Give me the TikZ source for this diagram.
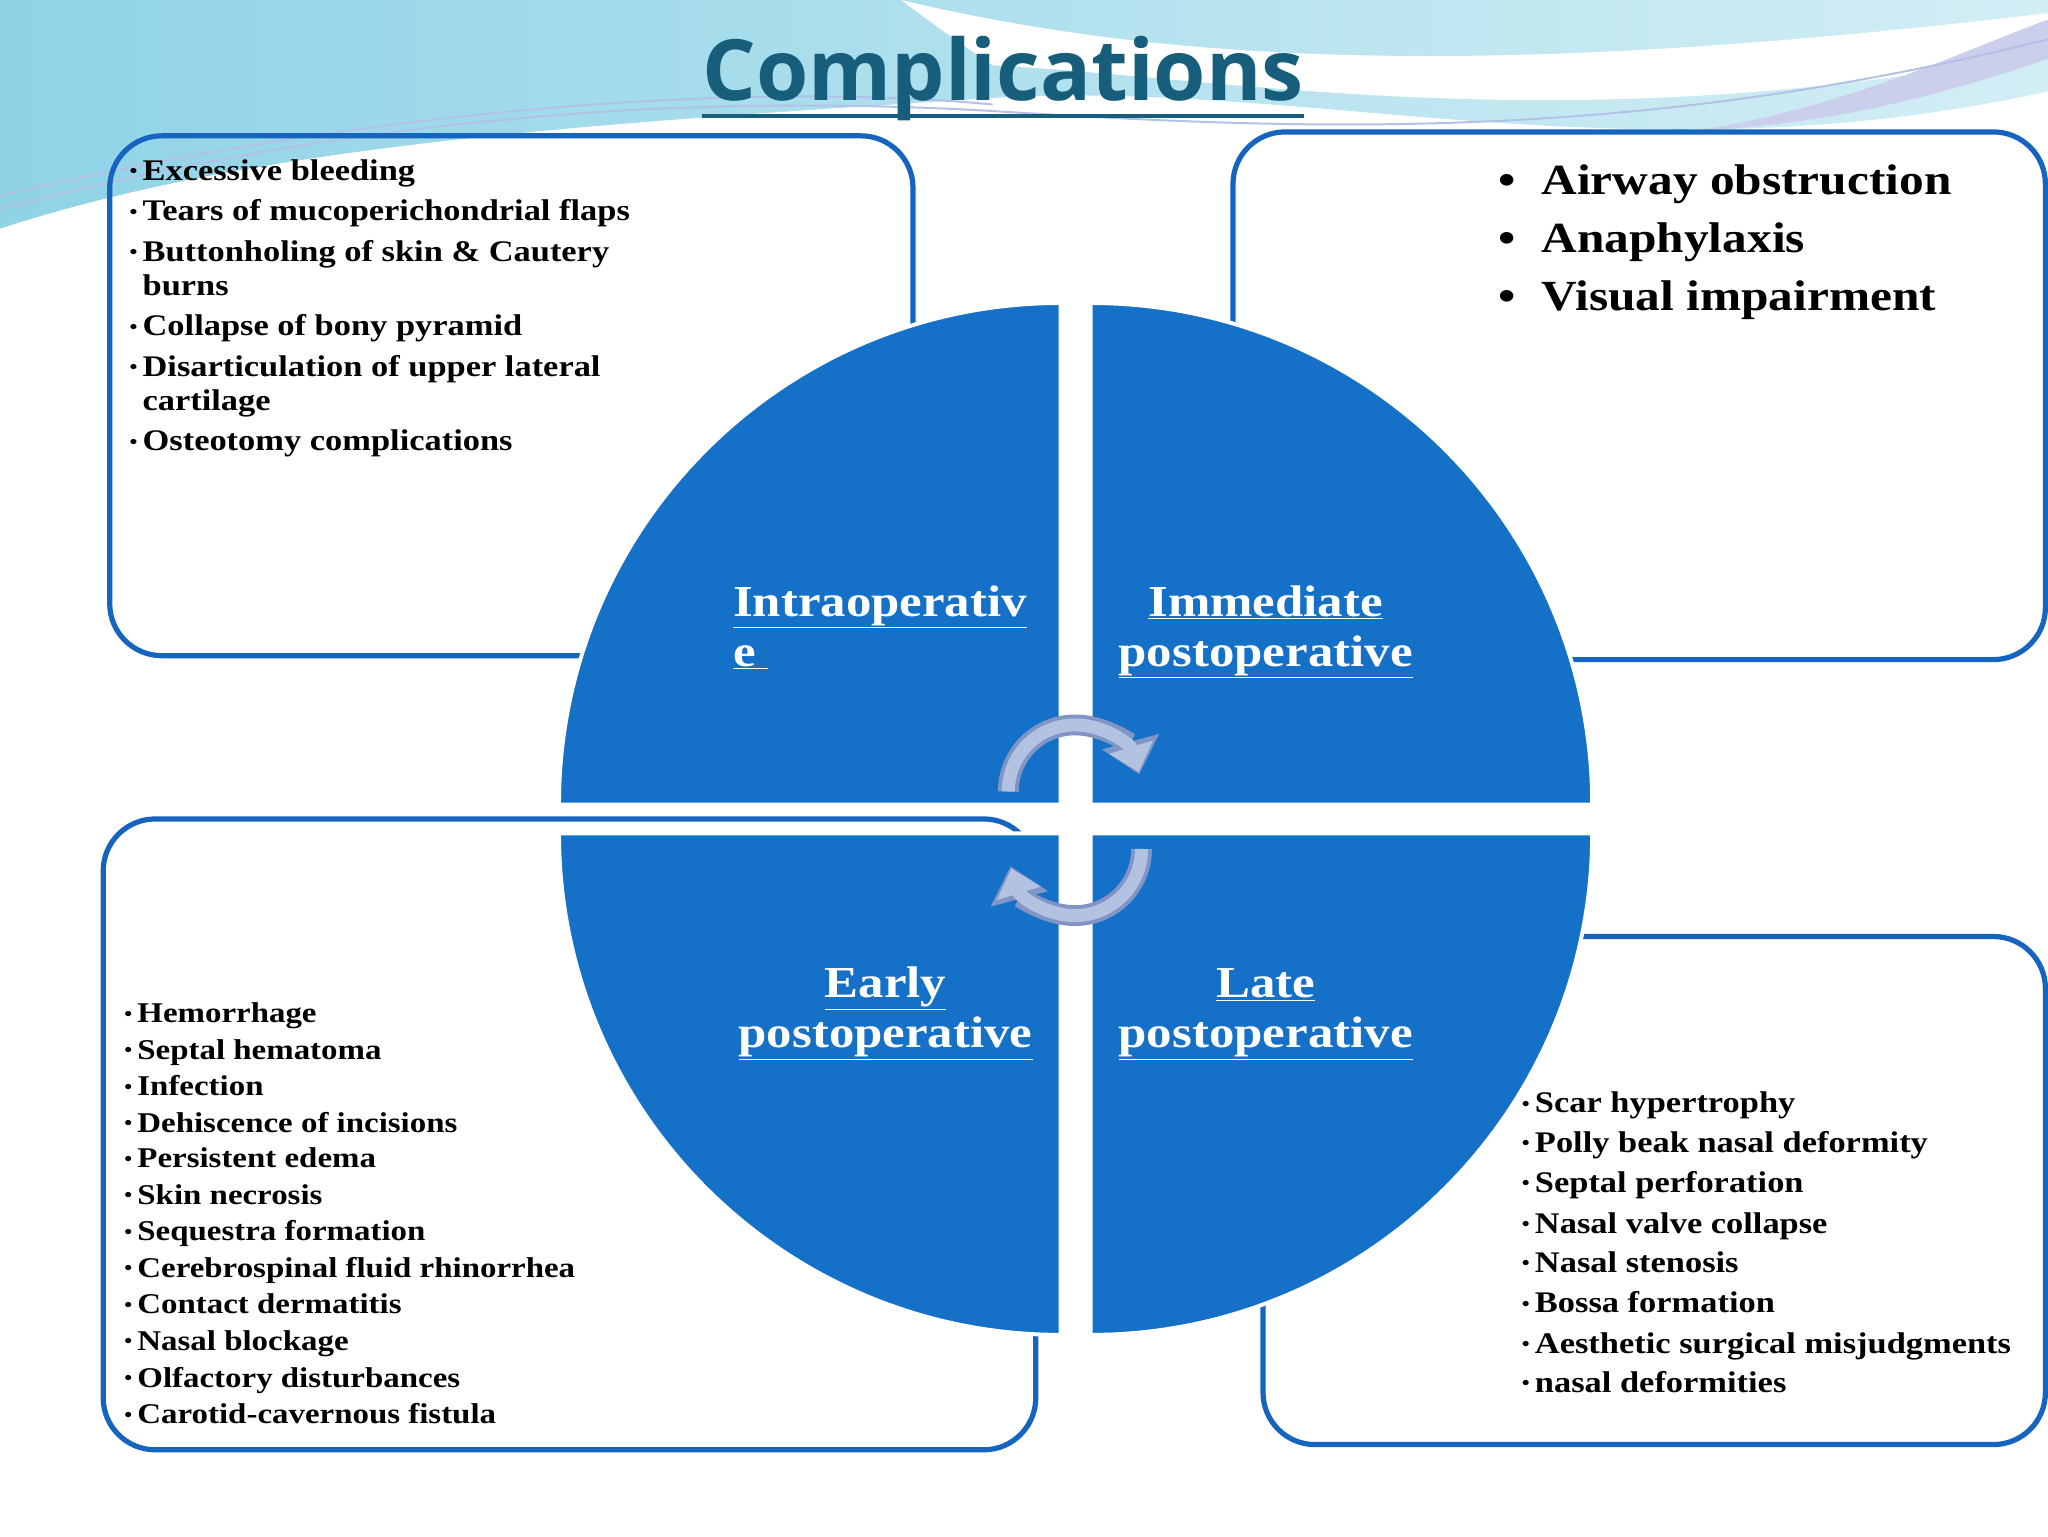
\documentclass[tikz,border=0pt]{standalone}
\usepackage{fontspec}
\usetikzlibrary{arrows.meta}
\newfontfamily\bodyf{Liberation Serif}[FakeStretch=1.15]
\newfontfamily\titlef{Open Sans}
\definecolor{qblue}{HTML}{1570C8}
\definecolor{bline}{HTML}{1565C0}
\definecolor{ttl}{HTML}{175E7C}
\definecolor{arrf}{HTML}{B4C2E2}
\definecolor{arrd}{HTML}{8095C6}
\definecolor{wave1}{HTML}{8FD3E6}
\definecolor{wave2}{HTML}{D3EEF5}
\tikzset{
  box/.style={draw=bline,line width=4,rounded corners=40},
  quad/.style={fill=qblue,draw=white,line width=3},
  lbl/.style={text=white,font=\bodyf\bfseries\fontsize{34}{38}\selectfont,inner sep=0},
  itm/.style={anchor=base west,inner sep=0,font=\bodyf\bfseries\fontsize{23}{26}\selectfont},
  itms/.style={anchor=base west,inner sep=0,font=\bodyf\bfseries\fontsize{22}{26}\selectfont},
  itmb/.style={anchor=base west,inner sep=0,font=\bodyf\bfseries\fontsize{33}{36}\selectfont},
}
\newcommand{\bitem}[5][itm]{\node[#1] (#5b) at (#2,#3) {\fontsize{15}{15}\selectfont\raisebox{2bp}{\textbullet}}; \node[#1] (#5) at (#2+10,#3) {#4};}
\begin{document}
\begin{tikzpicture}[x=1bp,y=-1bp]
\useasboundingbox (0,0) rectangle (1568,1176);
\fill[white] (0,0) rectangle (1568,1176);
% top wave
\shade[left color=wave1,right color=wave2] (0,0) -- (1568,0) -- (1568,70) .. controls (1250,140) and (1000,60) .. (760,75) .. controls (450,95) and (200,110) .. (0,175) -- cycle;
\fill[white] (690,0) .. controls (900,50) and (1150,60) .. (1568,10) -- (1568,40) .. controls (1200,110) and (950,60) .. (760,50) .. controls (730,30) and (710,15) .. (690,0) -- cycle;
\fill[cyan!30!blue!20!white] (1300,100) .. controls (1420,80) and (1500,40) .. (1568,15) -- (1568,45) .. controls (1480,75) and (1400,95) .. (1300,100) -- cycle;
\draw[cyan!40!blue!30!white,line width=1.5] (0,160) .. controls (250,95) and (500,70) .. (760,85) .. controls (1000,100) and (1250,110) .. (1568,30);
\draw[cyan!40!blue!30!white,line width=1.5] (0,150) .. controls (250,90) and (550,60) .. (760,80);
% title
\node[text=ttl,font=\titlef\bfseries\fontsize{65}{72}\selectfont,inner sep=0] (title) at (768,60) {Complications};
\draw[ttl,line width=3.5] (title.base west) ++(0,12) coordinate (tu1) -- (tu1 -| title.east);
% boxes
\draw[box] (84,104) rectangle (699,502);
\draw[box] (944,101) rectangle (1566,505);
\draw[box] (79,627) rectangle (793,1110);
\draw[box] (967,717) rectangle (1566,1106);
% quadrants
\path[quad] (812,616) -- (428,616) arc[start angle=180,end angle=270,radius=384] -- cycle;
\path[quad] (835,616) -- (835,232) arc[start angle=270,end angle=360,radius=384] -- cycle;
\path[quad] (812,638) -- (428,638) arc[start angle=180,end angle=90,radius=384] -- cycle;
\path[quad] (835,638) -- (1219,638) arc[start angle=0,end angle=90,radius=384] -- cycle;
% arrows
\draw[arrd,line width=16,-{Triangle[width=44,length=26]}] (772,606) arc[start angle=180,end angle=345,radius=51];
\draw[arrf,line width=10,-{Triangle[width=34,length=20]}] (772,606) arc[start angle=180,end angle=343,radius=51];
\draw[arrd,line width=16,-{Triangle[width=44,length=26]}] (874,650) arc[start angle=0,end angle=165,radius=51];
\draw[arrf,line width=10,-{Triangle[width=34,length=20]}] (874,650) arc[start angle=0,end angle=163,radius=51];
% labels
\node[lbl,anchor=base west] (l1) at (561,472) {\underline{Intraoperativ}};
\node[lbl,anchor=base west] (l1b) at (561,510) {\underline{e\ }};
\node[lbl,anchor=base] (l2) at (969,472) {\underline{Immediate}};
\node[lbl,anchor=base] (l2b) at (969,510) {\underline{postoperative}};
\node[lbl,anchor=base] (l3) at (678,764) {\underline{Early}};
\node[lbl,anchor=base] (l3b) at (678,802) {\underline{postoperative}};
\node[lbl,anchor=base] (l4) at (969,764) {\underline{Late}};
\node[lbl,anchor=base] (l4b) at (969,802) {\underline{postoperative}};
% TL list
\bitem{99}{138}{Excessive bleeding}{a1}
\bitem{99}{169}{Tears of mucoperichondrial flaps}{a2}
\bitem{99}{200}{Buttonholing of skin \& Cautery}{a3}
\node[itm] (a3c) at (109,226) {burns};
\bitem{99}{257}{Collapse of bony pyramid}{a4}
\bitem{99}{288}{Disarticulation of upper lateral}{a5}
\node[itm] (a5c) at (109,314) {cartilage};
\bitem{99}{345}{Osteotomy complications}{a6}
% TR list
\node[itmb] (b1b) at (1147,149) {\textbullet}; \node[itmb] (b1) at (1180,149) {Airway obstruction};
\node[itmb] (b2b) at (1147,193) {\textbullet}; \node[itmb] (b2) at (1180,193) {Anaphylaxis};
\node[itmb] (b3b) at (1147,238) {\textbullet}; \node[itmb] (b3) at (1180,238) {Visual impairment};
% BL list
\bitem[itms]{95}{783}{Hemorrhage}{c1}
\bitem[itms]{95}{811}{Septal hematoma}{c2}
\bitem[itms]{95}{839}{Infection}{c3}
\bitem[itms]{95}{867}{Dehiscence of incisions}{c4}
\bitem[itms]{95}{894}{Persistent edema}{c5}
\bitem[itms]{95}{922}{Skin necrosis}{c6}
\bitem[itms]{95}{950}{Sequestra formation}{c7}
\bitem[itms]{95}{978}{Cerebrospinal fluid rhinorrhea}{c8}
\bitem[itms]{95}{1006}{Contact dermatitis}{c9}
\bitem[itms]{95}{1034}{Nasal blockage}{c10}
\bitem[itms]{95}{1062}{Olfactory disturbances}{c11}
\bitem[itms]{95}{1090}{Carotid-cavernous fistula}{c12}
% BR list
\bitem{1165}{852}{Scar hypertrophy}{d1}
\bitem{1165}{882}{Polly beak nasal deformity}{d2}
\bitem{1165}{913}{Septal perforation}{d3}
\bitem{1165}{944}{Nasal valve collapse}{d4}
\bitem{1165}{974}{Nasal stenosis}{d5}
\bitem{1165}{1005}{Bossa formation}{d6}
\bitem{1165}{1036}{Aesthetic surgical misjudgments}{d7}
\bitem{1165}{1066}{nasal deformities}{d8}
\end{tikzpicture}
\end{document}
